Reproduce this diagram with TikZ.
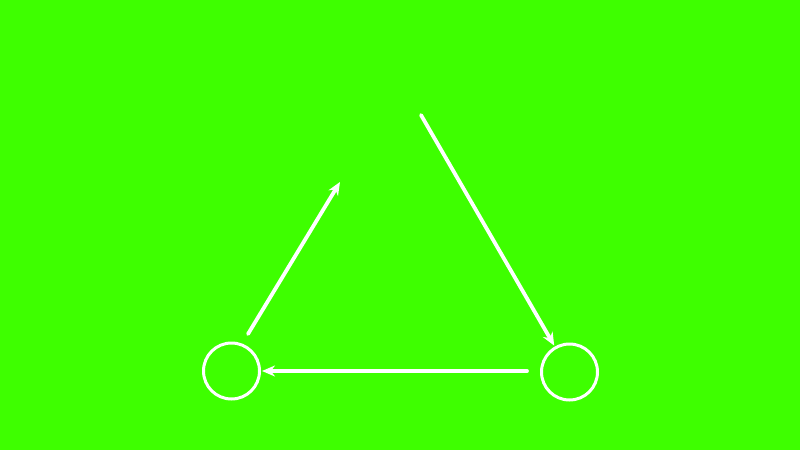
\documentclass[tikz,border=0pt]{standalone}
\usepackage{xcolor}
\usepackage{tikz}
\usetikzlibrary{arrows.meta,positioning}
\definecolor{screen}{RGB}{62,255,0}

\begin{document}
\begin{tikzpicture}[
  x=1pt, y=-1pt,
  vertex/.style={draw=white, circle, line width=3pt, minimum size=56pt, inner sep=0pt},
  edge/.style={draw=white, line width=3.8pt, line cap=round, -{Stealth[length=13pt,width=11pt]}},
  >=Stealth
]
  \fill[screen] (0,0) rectangle (800,450);
  \node[vertex] (left) at (231.5,371) {};
  \node[vertex] (right) at (569.5,372) {};
  \coordinate (upstart) at (248,334);
  \coordinate (uptip) at (340,182);
  \coordinate (downstart) at (421,115);
  \coordinate (backstart) at (527,371);
  \draw[edge] (upstart) -- (uptip);
  \draw[edge, shorten >=1pt] (downstart) -- (right);
  \draw[edge, shorten >=1pt] (backstart) -- (left);
\end{tikzpicture}
\end{document}
